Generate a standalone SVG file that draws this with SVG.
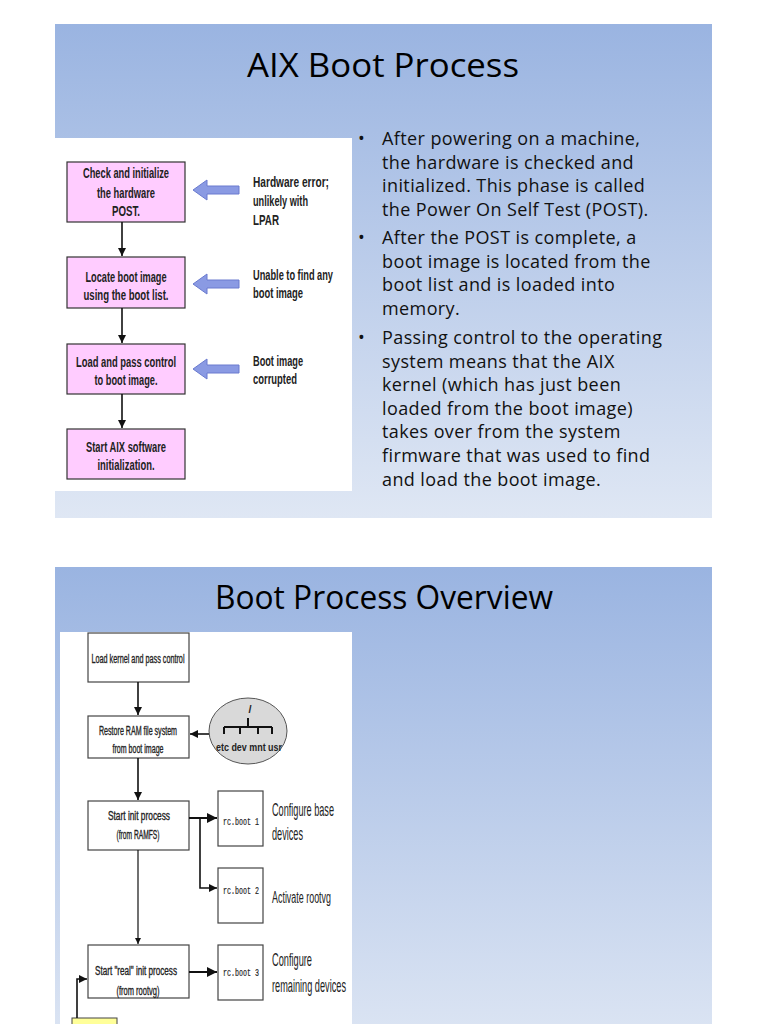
<svg xmlns="http://www.w3.org/2000/svg" width="768" height="1024" viewBox="0 0 768 1024">
<style>
.title{font-family:"Open Sans","Noto Sans",sans-serif;font-size:32px;fill:#000;text-anchor:middle}
.bul{font-family:"Open Sans","Noto Sans",sans-serif;font-size:18px;letter-spacing:0.4px;fill:#111}
.bx{font-family:"Liberation Sans",Arial,sans-serif;font-size:14px;font-weight:bold;fill:#222;text-anchor:middle}
.lbl{font-family:"Liberation Sans",Arial,sans-serif;font-size:14px;font-weight:bold;fill:#222}
.pink{fill:#FFCCFF;stroke:#333;stroke-width:1.2}
.wb{fill:#fff;stroke:#444;stroke-width:1.2}
.s2{font-family:"Liberation Sans",Arial,sans-serif;font-size:12.5px;fill:#222;stroke:#222;stroke-width:0.35;text-anchor:middle}
.mono{font-family:"Liberation Mono",monospace;font-size:10px;fill:#222;stroke:#222;stroke-width:0.2;text-anchor:middle}
.tl{font-family:"Liberation Sans",Arial,sans-serif;font-size:11px;font-weight:bold;fill:#222;text-anchor:middle}
.big{font-family:"Liberation Sans",Arial,sans-serif;font-size:19px;fill:#222}
.mid{font-family:"Liberation Sans",Arial,sans-serif;font-size:16px;fill:#222}
.ln{stroke:#111;stroke-width:1.6;fill:none}
.blk{fill:#8A9AE3;stroke:#6A7BCF;stroke-width:1}
</style>
<defs>
<linearGradient id="sg" x1="0" y1="0" x2="0" y2="1">
<stop offset="0" stop-color="#9AB4E1"/>
<stop offset="1" stop-color="#DFE7F4"/>
</linearGradient>
<marker id="ah" viewBox="0 0 10 10" refX="10" refY="5" markerWidth="5" markerHeight="5" orient="auto" markerUnits="strokeWidth">
<path d="M0,0 L10,5 L0,10 z" fill="#111"/>
</marker>
</defs>
<rect width="768" height="1024" fill="#fff"/>

<!-- Slide 1 -->
<g id="slide1">
<rect x="55" y="24" width="657" height="494" fill="url(#sg)"/>
<text class="title" x="383" y="77" font-size="33" textLength="272" lengthAdjust="spacingAndGlyphs">AIX Boot Process</text>
<rect x="55" y="138" width="297" height="353" fill="#fff"/>
</g>

<g id="s1-box1"><rect class="pink" x="67" y="162" width="118" height="60"/>
<text class="bx" x="126" y="178" textLength="86" lengthAdjust="spacingAndGlyphs">Check and initialize</text>
<text class="bx" x="126" y="198" textLength="58" lengthAdjust="spacingAndGlyphs">the hardware</text>
<text class="bx" x="126" y="216" textLength="28" lengthAdjust="spacingAndGlyphs">POST.</text></g>
<g id="s1-box2"><rect class="pink" x="67" y="257" width="118" height="51"/>
<text class="bx" x="126" y="282" textLength="81" lengthAdjust="spacingAndGlyphs">Locate boot image</text>
<text class="bx" x="126" y="300" textLength="85" lengthAdjust="spacingAndGlyphs">using the boot list.</text></g>
<g id="s1-box3"><rect class="pink" x="67" y="344" width="118" height="50"/>
<text class="bx" x="126" y="367" textLength="100" lengthAdjust="spacingAndGlyphs">Load and pass control</text>
<text class="bx" x="126" y="385" textLength="63" lengthAdjust="spacingAndGlyphs">to boot image.</text></g>
<g id="s1-box4"><rect class="pink" x="67" y="429" width="118" height="50"/>
<text class="bx" x="126" y="452" textLength="80" lengthAdjust="spacingAndGlyphs">Start AIX software</text>
<text class="bx" x="126" y="470" textLength="57" lengthAdjust="spacingAndGlyphs">initialization.</text></g>

<g id="s1-err1"><text class="lbl" x="253" y="187" textLength="76" lengthAdjust="spacingAndGlyphs">Hardware error;</text>
<text class="lbl" x="253" y="206" textLength="55" lengthAdjust="spacingAndGlyphs">unlikely with</text>
<text class="lbl" x="253" y="225" textLength="26" lengthAdjust="spacingAndGlyphs">LPAR</text></g>
<g id="s1-err2"><text class="lbl" x="253" y="280" textLength="80" lengthAdjust="spacingAndGlyphs">Unable to find any</text>
<text class="lbl" x="253" y="298" textLength="50" lengthAdjust="spacingAndGlyphs">boot image</text></g>
<g id="s1-err3"><text class="lbl" x="253" y="366" textLength="50" lengthAdjust="spacingAndGlyphs">Boot image</text>
<text class="lbl" x="253" y="384" textLength="44" lengthAdjust="spacingAndGlyphs">corrupted</text></g>

<g id="s1-connectors">
<line class="ln" x1="122" y1="222" x2="122" y2="256" marker-end="url(#ah)"/>
<line class="ln" x1="122" y1="308" x2="122" y2="343" marker-end="url(#ah)"/>
<line class="ln" x1="122" y1="394" x2="122" y2="428" marker-end="url(#ah)"/>
<path class="blk" d="M193,190 L207,180 L207,186 L239,186 L239,194 L207,194 L207,200 Z"/>
<path class="blk" d="M193,284 L207,274 L207,280 L239,280 L239,288 L207,288 L207,294 Z"/>
<path class="blk" d="M193,369 L207,359 L207,365 L239,365 L239,373 L207,373 L207,379 Z"/>
</g>

<g id="s1-bullets">
<text class="bul" x="358" y="145">•</text>
<text class="bul" x="382" y="145">After powering on a machine,</text>
<text class="bul" x="382" y="168.6">the hardware is checked and</text>
<text class="bul" x="382" y="192.2">initialized. This phase is called</text>
<text class="bul" x="382" y="215.8">the Power On Self Test (POST).</text>
<text class="bul" x="358" y="244">•</text>
<text class="bul" x="382" y="244">After the POST is complete, a</text>
<text class="bul" x="382" y="267.6">boot image is located from the</text>
<text class="bul" x="382" y="291.2">boot list and is loaded into</text>
<text class="bul" x="382" y="314.8">memory.</text>
<text class="bul" x="358" y="344">•</text>
<text class="bul" x="382" y="344">Passing control to the operating</text>
<text class="bul" x="382" y="367.6">system means that the AIX</text>
<text class="bul" x="382" y="391.2">kernel (which has just been</text>
<text class="bul" x="382" y="414.8">loaded from the boot image)</text>
<text class="bul" x="382" y="438.4">takes over from the system</text>
<text class="bul" x="382" y="462">firmware that was used to find</text>
<text class="bul" x="382" y="486">and load the boot image.</text>
</g>

<!-- Slide 2 -->
<g id="slide2">
<rect x="55" y="567" width="657" height="494" fill="url(#sg)"/>
<text class="title" x="384" y="609" textLength="338" lengthAdjust="spacingAndGlyphs">Boot Process Overview</text>
<rect x="60" y="632" width="292" height="400" fill="#fff"/>
</g>

<g id="s2-load"><rect class="wb" x="88" y="633" width="101" height="49"/>
<text class="s2" x="138" y="663" textLength="93" lengthAdjust="spacingAndGlyphs">Load kernel and pass control</text></g>
<g id="s2-restore"><rect class="wb" x="88" y="716" width="101" height="42"/>
<text class="s2" x="138" y="735" textLength="78" lengthAdjust="spacingAndGlyphs">Restore RAM file system</text>
<text class="s2" x="138" y="753" textLength="51" lengthAdjust="spacingAndGlyphs">from boot image</text></g>
<g id="s2-ramfs">
<ellipse cx="248" cy="731" rx="39" ry="33" fill="#D9D9D9" stroke="#555" stroke-width="1"/>
<text class="tl" x="250" y="713">/</text>
<path d="M248,718 V727 M224,727 H272 M224,727 V734 M240,727 V734 M258,727 V734 M272,727 V734" stroke="#111" stroke-width="2" fill="none"/>
<text class="tl" x="249" y="751" textLength="66" lengthAdjust="spacingAndGlyphs">etc dev mnt usr</text>
</g>
<g id="s2-init"><rect class="wb" x="88" y="801" width="101" height="49"/>
<text class="s2" x="139" y="820" textLength="62" lengthAdjust="spacingAndGlyphs">Start init process</text>
<text class="s2" x="138" y="839" textLength="43" lengthAdjust="spacingAndGlyphs">(from RAMFS)</text></g>
<g id="s2-rc1"><rect class="wb" x="218" y="791" width="45" height="55"/>
<text class="mono" x="241" y="825" textLength="36" lengthAdjust="spacingAndGlyphs">rc.boot 1</text></g>
<g id="s2-rc1-lbl"><text class="big" x="272" y="816" textLength="62" lengthAdjust="spacingAndGlyphs">Configure base</text>
<text class="big" x="272" y="840" textLength="31" lengthAdjust="spacingAndGlyphs">devices</text></g>
<g id="s2-rc2"><rect class="wb" x="218" y="868" width="45" height="55"/>
<text class="mono" x="241" y="894" textLength="36" lengthAdjust="spacingAndGlyphs">rc.boot 2</text></g>
<g id="s2-rc2-lbl"><text class="mid" x="272" y="903" textLength="59" lengthAdjust="spacingAndGlyphs">Activate rootvg</text></g>
<g id="s2-real"><rect class="wb" x="88" y="945" width="101" height="53"/>
<text class="s2" x="136" y="975" textLength="82" lengthAdjust="spacingAndGlyphs">Start "real" init process</text>
<text class="s2" x="138" y="995" textLength="43" lengthAdjust="spacingAndGlyphs">(from rootvg)</text></g>
<g id="s2-rc3"><rect class="wb" x="218" y="945" width="45" height="55"/>
<text class="mono" x="241" y="976" textLength="36" lengthAdjust="spacingAndGlyphs">rc.boot 3</text></g>
<g id="s2-rc3-lbl"><text class="big" x="272" y="966" textLength="40" lengthAdjust="spacingAndGlyphs">Configure</text>
<text class="big" x="272" y="992" textLength="74" lengthAdjust="spacingAndGlyphs">remaining devices</text></g>
<g id="s2-yellow"><rect x="72" y="1018" width="45" height="20" fill="#FFFF99" stroke="#444" stroke-width="1"/></g>

<g id="s2-connectors">
<line class="ln" x1="138" y1="682" x2="138" y2="715" marker-end="url(#ah)"/>
<line class="ln" x1="209" y1="734" x2="190" y2="734" marker-end="url(#ah)"/>
<line class="ln" x1="138" y1="758" x2="138" y2="800" marker-end="url(#ah)"/>
<line class="ln" x1="189" y1="818" x2="217" y2="818" marker-end="url(#ah)" style="stroke-width:2"/>
<polyline class="ln" points="200,818 200,888 217,888" marker-end="url(#ah)"/>
<line class="ln" x1="138" y1="850" x2="138" y2="944" marker-end="url(#ah)" style="stroke-width:1.2"/>
<line class="ln" x1="189" y1="972" x2="217" y2="972" marker-end="url(#ah)" style="stroke-width:2"/>
<polyline class="ln" points="77,1018 77,979 87,979" marker-end="url(#ah)"/>
</g>
</svg>
